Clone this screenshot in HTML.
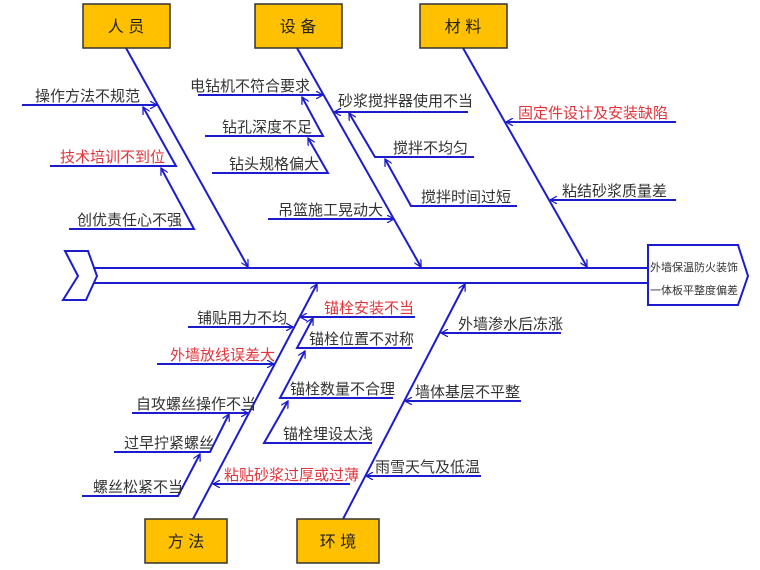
<!DOCTYPE html>
<html><head><meta charset="utf-8"><style>
html,body{margin:0;padding:0;background:#fff;}
svg{display:block}
text{font-family:"Liberation Sans","Noto Sans CJK SC",sans-serif;font-size:15px;fill:#333;}
.r{fill:#e0343c}
.b{font-size:16px;fill:#222}
</style></head><body>
<svg width="760" height="570" viewBox="0 0 760 570" xmlns="http://www.w3.org/2000/svg">
<defs>
<marker id="a" viewBox="0 0 10 10" refX="9" refY="5" markerWidth="8" markerHeight="8" markerUnits="userSpaceOnUse" orient="auto">
<path d="M0,0 L9,5 L0,10" fill="none" stroke="#1c1ccc" stroke-width="1.6"/>
</marker>
</defs>
<g stroke="#1c1ccc" stroke-width="2" fill="none">
<!-- spine -->
<line x1="93" y1="268" x2="648" y2="268"/>
<line x1="93" y1="283" x2="648" y2="283"/>
<path d="M65,251 L88,251 L97,276 L86,300 L63,300 L78,276 Z"/>
<path d="M648,245 L738,245 L748,276 L738,305 L648,305 Z"/>
<!-- main bones -->
<line x1="126" y1="48" x2="248" y2="267" marker-end="url(#a)"/>
<line x1="297" y1="48" x2="421" y2="267" marker-end="url(#a)"/>
<line x1="463" y1="48" x2="587" y2="267" marker-end="url(#a)"/>
<line x1="193" y1="519" x2="317" y2="284" marker-end="url(#a)"/>
<line x1="343" y1="519" x2="465" y2="284" marker-end="url(#a)"/>
<!-- 人员 -->
<line x1="22" y1="105" x2="157" y2="105" marker-end="url(#a)"/>
<polyline points="50,166 176,166 143,107" marker-end="url(#a)"/>
<polyline points="69,229 194,229 161,168" marker-end="url(#a)"/>
<!-- 设备 -->
<line x1="198" y1="95" x2="323" y2="95" marker-end="url(#a)"/>
<polyline points="205,136 323,136 302,97" marker-end="url(#a)"/>
<polyline points="212,173 328,173 308,138" marker-end="url(#a)"/>
<line x1="268" y1="219" x2="394" y2="219" marker-end="url(#a)"/>
<line x1="468" y1="112" x2="334" y2="112" marker-end="url(#a)"/>
<polyline points="474,157 375,157 349,113" marker-end="url(#a)"/>
<polyline points="517,206 411,206 385,159" marker-end="url(#a)"/>
<!-- 材料 -->
<line x1="676" y1="122" x2="506" y2="122" marker-end="url(#a)"/>
<line x1="676" y1="200" x2="550" y2="200" marker-end="url(#a)"/>
<!-- 方法 -->
<line x1="188" y1="327" x2="293" y2="327" marker-end="url(#a)"/>
<line x1="157" y1="364" x2="274" y2="364" marker-end="url(#a)"/>
<line x1="132" y1="413" x2="248" y2="413" marker-end="url(#a)"/>
<polyline points="114,452 210,452 229,414" marker-end="url(#a)"/>
<polyline points="82,496 178,496 200,454" marker-end="url(#a)"/>
<line x1="350" y1="484" x2="213" y2="484" marker-end="url(#a)"/>
<line x1="415" y1="317" x2="300" y2="317" marker-end="url(#a)"/>
<polyline points="412,348 297,348 313,318" marker-end="url(#a)"/>
<polyline points="393,398 280,398 305,351" marker-end="url(#a)"/>
<polyline points="372,443 264,443 288,401" marker-end="url(#a)"/>
<!-- 环境 -->
<line x1="561" y1="333" x2="441" y2="333" marker-end="url(#a)"/>
<line x1="521" y1="401" x2="405" y2="401" marker-end="url(#a)"/>
<line x1="481" y1="476" x2="366" y2="476" marker-end="url(#a)"/>
</g>
<!-- boxes -->
<g fill="#ffc000" stroke="#333" stroke-width="1.5">
<rect x="83" y="4" width="87" height="44"/>
<rect x="255" y="4" width="87" height="44"/>
<rect x="420" y="4" width="87" height="44"/>
<rect x="145" y="519" width="82" height="44"/>
<rect x="297" y="519" width="82" height="44"/>
</g>
<text class="b" x="126" y="32" text-anchor="middle">人 员</text>
<text class="b" x="298" y="32" text-anchor="middle">设 备</text>
<text class="b" x="463" y="32" text-anchor="middle">材 料</text>
<text class="b" x="186" y="547" text-anchor="middle">方 法</text>
<text class="b" x="338" y="547" text-anchor="middle">环 境</text>
<!-- labels -->
<text x="35" y="101">操作方法不规范</text>
<text class="r" x="60" y="162">技术培训不到位</text>
<text x="77" y="225">创优责任心不强</text>
<text x="190" y="91">电钻机不符合要求</text>
<text x="222" y="132">钻孔深度不足</text>
<text x="229" y="169">钻头规格偏大</text>
<text x="278" y="215">吊篮施工晃动大</text>
<text x="338" y="106">砂浆搅拌器使用不当</text>
<text x="393" y="153">搅拌不均匀</text>
<text x="421" y="202">搅拌时间过短</text>
<text class="r" x="518" y="118">固定件设计及安装缺陷</text>
<text x="562" y="196">粘结砂浆质量差</text>
<text x="197" y="323">铺贴用力不均</text>
<text class="r" x="170" y="360">外墙放线误差大</text>
<text x="136" y="409">自攻螺丝操作不当</text>
<text x="124" y="448">过早拧紧螺丝</text>
<text x="93" y="492">螺丝松紧不当</text>
<text class="r" x="224" y="480">粘贴砂浆过厚或过薄</text>
<text class="r" x="324" y="313">锚栓安装不当</text>
<text x="309" y="344">锚栓位置不对称</text>
<text x="290" y="394">锚栓数量不合理</text>
<text x="283" y="439">锚栓埋设太浅</text>
<text x="458" y="329">外墙渗水后冻涨</text>
<text x="415" y="397">墙体基层不平整</text>
<text x="375" y="472">雨雪天气及低温</text>
<text x="694" y="271" text-anchor="middle" style="font-size:11px">外墙保温防火装饰</text>
<text x="694" y="294" text-anchor="middle" style="font-size:11px">一体板平整度偏差</text>
</svg>
</body></html>
